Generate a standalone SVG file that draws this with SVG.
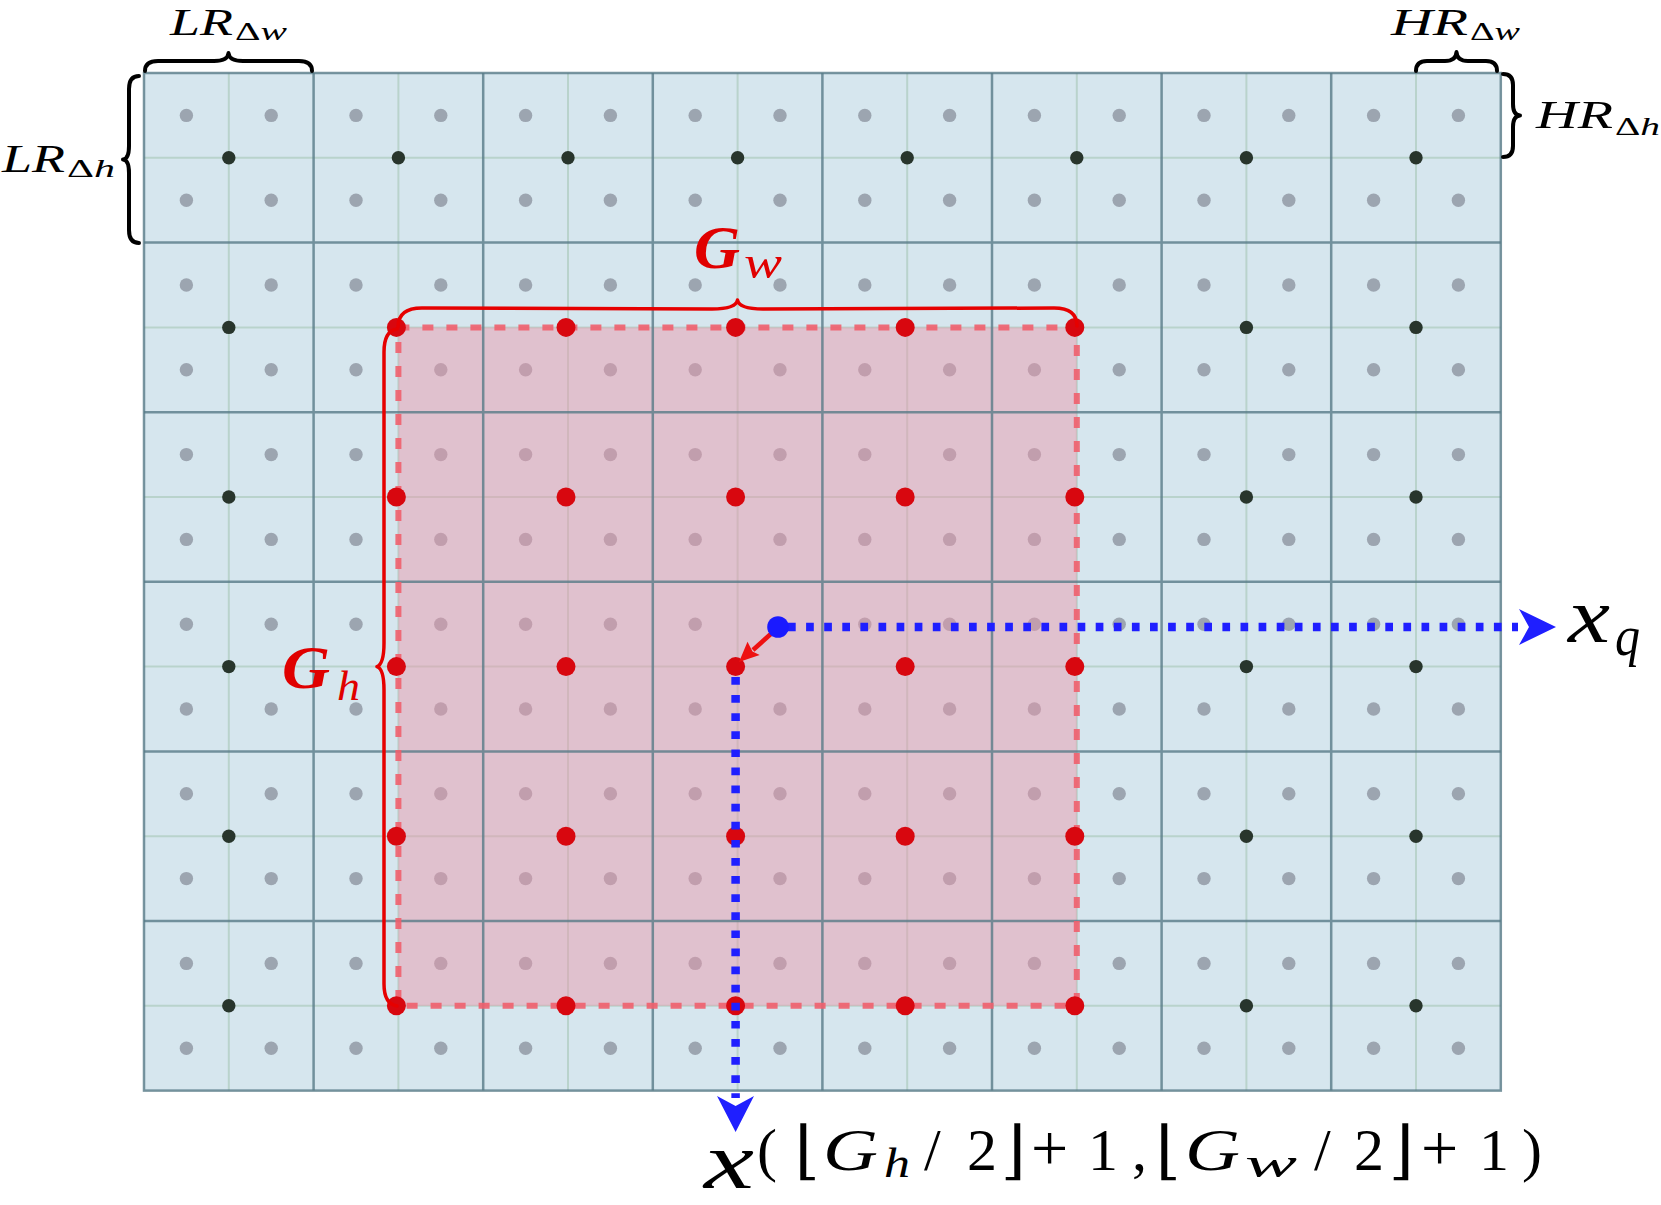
<svg xmlns="http://www.w3.org/2000/svg" width="1661" height="1205" viewBox="0 0 1661 1205">
<style>
.m{font-family:"Liberation Serif","DejaVu Serif",serif;font-style:italic;}
.u{font-family:"Liberation Serif","DejaVu Serif",serif;font-style:normal;}
.fl{font-family:"DejaVu Serif","Liberation Serif",serif;font-style:normal;}
.blk{fill:#000;}
.red{fill:#e00000;}
.gd{fill:#9ca5b0;}
.bd{fill:#28352c;}
.inner{stroke:#b9d3cc;stroke-width:2;fill:none;}
.dark{stroke:#587a87;stroke-opacity:0.8;stroke-width:2.5;fill:none;}
.brace{fill:none;stroke:#000;stroke-width:4;stroke-linecap:round;stroke-linejoin:round;}
.rbrace{fill:none;stroke:#e60000;stroke-width:3.5;stroke-linecap:round;stroke-linejoin:round;}
.bdash{fill:none;stroke:#1f1fff;stroke-width:8.5;stroke-dasharray:7.7 10.4;}
.rd{fill:#d8070f;}
</style>
<defs>
<g id="cellDots">
<circle class="gd" cx="42.4" cy="42.4" r="6.7"/>
<circle class="gd" cx="127.2" cy="42.4" r="6.7"/>
<circle class="gd" cx="42.4" cy="127.2" r="6.7"/>
<circle class="gd" cx="127.2" cy="127.2" r="6.7"/>
<circle class="bd" cx="84.8" cy="84.8" r="6.7"/>
</g>
</defs>
<rect width="1661" height="1205" fill="#ffffff"/>

<g id="grid">
<rect x="144" y="73" width="1356.8" height="1017.6" fill="#d6e6ee"/>
<path class="inner" d="M228.8,73V1090.6M398.4,73V1090.6M568,73V1090.6M737.6,73V1090.6M907.2,73V1090.6M1076.8,73V1090.6M1246.4,73V1090.6M1416,73V1090.6M144,157.8H1500.8M144,327.4H1500.8M144,497H1500.8M144,666.6H1500.8M144,836.2H1500.8M144,1005.8H1500.8"/>
<g id="dots">
<use href="#cellDots" x="144" y="73"/><use href="#cellDots" x="313.6" y="73"/><use href="#cellDots" x="483.2" y="73"/><use href="#cellDots" x="652.8" y="73"/><use href="#cellDots" x="822.4" y="73"/><use href="#cellDots" x="992" y="73"/><use href="#cellDots" x="1161.6" y="73"/><use href="#cellDots" x="1331.2" y="73"/>
<use href="#cellDots" x="144" y="242.6"/><use href="#cellDots" x="313.6" y="242.6"/><use href="#cellDots" x="483.2" y="242.6"/><use href="#cellDots" x="652.8" y="242.6"/><use href="#cellDots" x="822.4" y="242.6"/><use href="#cellDots" x="992" y="242.6"/><use href="#cellDots" x="1161.6" y="242.6"/><use href="#cellDots" x="1331.2" y="242.6"/>
<use href="#cellDots" x="144" y="412.2"/><use href="#cellDots" x="313.6" y="412.2"/><use href="#cellDots" x="483.2" y="412.2"/><use href="#cellDots" x="652.8" y="412.2"/><use href="#cellDots" x="822.4" y="412.2"/><use href="#cellDots" x="992" y="412.2"/><use href="#cellDots" x="1161.6" y="412.2"/><use href="#cellDots" x="1331.2" y="412.2"/>
<use href="#cellDots" x="144" y="581.8"/><use href="#cellDots" x="313.6" y="581.8"/><use href="#cellDots" x="483.2" y="581.8"/><use href="#cellDots" x="652.8" y="581.8"/><use href="#cellDots" x="822.4" y="581.8"/><use href="#cellDots" x="992" y="581.8"/><use href="#cellDots" x="1161.6" y="581.8"/><use href="#cellDots" x="1331.2" y="581.8"/>
<use href="#cellDots" x="144" y="751.4"/><use href="#cellDots" x="313.6" y="751.4"/><use href="#cellDots" x="483.2" y="751.4"/><use href="#cellDots" x="652.8" y="751.4"/><use href="#cellDots" x="822.4" y="751.4"/><use href="#cellDots" x="992" y="751.4"/><use href="#cellDots" x="1161.6" y="751.4"/><use href="#cellDots" x="1331.2" y="751.4"/>
<use href="#cellDots" x="144" y="921"/><use href="#cellDots" x="313.6" y="921"/><use href="#cellDots" x="483.2" y="921"/><use href="#cellDots" x="652.8" y="921"/><use href="#cellDots" x="822.4" y="921"/><use href="#cellDots" x="992" y="921"/><use href="#cellDots" x="1161.6" y="921"/><use href="#cellDots" x="1331.2" y="921"/>
</g>
</g>

<g id="window-fill">
<rect x="398.4" y="327.4" width="678.4" height="678.4" fill="#eb96ab" fill-opacity="0.47"/>
</g>

<g id="grid-lines">
<path class="dark" d="M313.6,73V1090.6M483.2,73V1090.6M652.8,73V1090.6M822.4,73V1090.6M992,73V1090.6M1161.6,73V1090.6M1331.2,73V1090.6M144,242.6H1500.8M144,412.2H1500.8M144,581.8H1500.8M144,751.4H1500.8M144,921H1500.8"/>
<rect class="dark" x="144" y="73" width="1356.8" height="1017.6"/>
</g>

<g id="window-border">
<rect x="398.4" y="327.4" width="678.4" height="678.4" fill="none" stroke="#ef5f6d" stroke-opacity="0.9" stroke-width="6" stroke-dasharray="11 13"/>
</g>

<g id="window-points">
<circle class="rd" cx="396.4" cy="327.4" r="9.5"/><circle class="rd" cx="566" cy="327.4" r="9.5"/><circle class="rd" cx="735.6" cy="327.4" r="9.5"/><circle class="rd" cx="905.2" cy="327.4" r="9.5"/><circle class="rd" cx="1074.8" cy="327.4" r="9.5"/>
<circle class="rd" cx="396.4" cy="497" r="9.5"/><circle class="rd" cx="566" cy="497" r="9.5"/><circle class="rd" cx="735.6" cy="497" r="9.5"/><circle class="rd" cx="905.2" cy="497" r="9.5"/><circle class="rd" cx="1074.8" cy="497" r="9.5"/>
<circle class="rd" cx="396.4" cy="666.6" r="9.5"/><circle class="rd" cx="566" cy="666.6" r="9.5"/><circle class="rd" cx="735.6" cy="666.6" r="9.5"/><circle class="rd" cx="905.2" cy="666.6" r="9.5"/><circle class="rd" cx="1074.8" cy="666.6" r="9.5"/>
<circle class="rd" cx="396.4" cy="836.2" r="9.5"/><circle class="rd" cx="566" cy="836.2" r="9.5"/><circle class="rd" cx="735.6" cy="836.2" r="9.5"/><circle class="rd" cx="905.2" cy="836.2" r="9.5"/><circle class="rd" cx="1074.8" cy="836.2" r="9.5"/>
<circle class="rd" cx="396.4" cy="1005.8" r="9.5"/><circle class="rd" cx="566" cy="1005.8" r="9.5"/><circle class="rd" cx="735.6" cy="1005.8" r="9.5"/><circle class="rd" cx="905.2" cy="1005.8" r="9.5"/><circle class="rd" cx="1074.8" cy="1005.8" r="9.5"/>
</g>

<g id="connectors">
<path class="bdash" d="M788,627H1518"/>
<path fill="#1f1fff" d="M1556,627L1519,609L1529,627L1519,645Z"/>
<path class="bdash" d="M735.6,677V1098"/>
<path fill="#1f1fff" d="M735.6,1132L717,1096L735.6,1106L754,1096Z"/>
<path d="M773,632L753,650" stroke="#ee1111" stroke-width="4.5" fill="none"/>
<path fill="#ee1111" d="M739,662L747.5,641.8L752.5,651.5L759.7,655Z"/>
</g>

<g id="query-point">
<circle cx="778" cy="627" r="10.8" fill="#1a1aff"/>
</g>

<g id="braces">
<path class="brace" d="M145,71Q145,61 158,61L214,61Q228,61 228.5,53Q229,61 243,61L299,61Q312,61 312,71"/>
<path class="brace" d="M139,76Q129,76 129,89L129,146Q129,159 123,159.5Q129,160 129,173L129,230Q129,243 139,243"/>
<path class="brace" d="M1416,71Q1416,61 1427,61L1445,61Q1456,61 1456.5,52Q1457,61 1468,61L1486,61Q1497,61 1497,71"/>
<path class="brace" d="M1503,74Q1513,74 1513,85L1513,104Q1513,115 1520,115.5Q1513,116 1513,127L1513,146Q1513,157 1503,157"/>
<path class="rbrace" d="M398,327Q398,308 422,308L712,309Q736,309 737.5,300Q739,309 763,309L1054,308Q1077,308 1077,326"/>
<path class="rbrace" d="M397,329Q384,331 384,352L384,643Q384,664 377,666.6Q384,669 384,690L384,984Q384,1004 397,1006"/>
</g>

<g id="labels">
<g id="label-lr-dw" class="blk">
<text class="m" x="170" y="35" font-size="38" textLength="63" lengthAdjust="spacingAndGlyphs">LR</text>
<text x="235" y="40" font-size="26" textLength="52" lengthAdjust="spacingAndGlyphs"><tspan class="u">Δ</tspan><tspan class="m">w</tspan></text>
</g>
<g id="label-lr-dh" class="blk">
<text class="m" x="2" y="172" font-size="40" textLength="63" lengthAdjust="spacingAndGlyphs">LR</text>
<text x="67" y="177" font-size="26" textLength="48" lengthAdjust="spacingAndGlyphs"><tspan class="u">Δ</tspan><tspan class="m">h</tspan></text>
</g>
<g id="label-hr-dw" class="blk">
<text class="m" x="1391" y="35" font-size="38" textLength="77" lengthAdjust="spacingAndGlyphs">HR</text>
<text x="1470" y="40" font-size="26" textLength="50" lengthAdjust="spacingAndGlyphs"><tspan class="u">Δ</tspan><tspan class="m">w</tspan></text>
</g>
<g id="label-hr-dh" class="blk">
<text class="m" x="1536" y="128" font-size="40" textLength="77" lengthAdjust="spacingAndGlyphs">HR</text>
<text x="1615" y="135" font-size="26" textLength="45" lengthAdjust="spacingAndGlyphs"><tspan class="u">Δ</tspan><tspan class="m">h</tspan></text>
</g>
<g id="label-gw" class="red">
<text class="m" x="694" y="268" font-size="62" font-weight="bold" textLength="46" lengthAdjust="spacingAndGlyphs">G</text>
<text class="m" x="744" y="278" font-size="46" textLength="38" lengthAdjust="spacingAndGlyphs">w</text>
</g>
<g id="label-gh" class="red">
<text class="m" x="282" y="688" font-size="62" font-weight="bold" textLength="48" lengthAdjust="spacingAndGlyphs">G</text>
<text class="m" x="337" y="700" font-size="42" textLength="23" lengthAdjust="spacingAndGlyphs">h</text>
</g>
<g id="label-xq" class="blk">
<text class="m" x="1568" y="642" font-size="78" textLength="42" lengthAdjust="spacingAndGlyphs">x</text>
<text class="m" x="1615" y="655" font-size="56" textLength="25" lengthAdjust="spacingAndGlyphs">q</text>
</g>
<g id="label-center" class="blk">
<text class="m" x="704" y="1188" font-size="80" textLength="50" lengthAdjust="spacingAndGlyphs">x</text>
<text font-size="60"><tspan class="u" x="757" y="1170">(</tspan><tspan class="fl" x="795" y="1172" font-size="64">⌊</tspan><tspan class="u" x="924" y="1170">/</tspan><tspan class="u" x="967" y="1170">2</tspan><tspan class="fl" x="1001" y="1172" font-size="64">⌋</tspan><tspan class="u" x="1031" y="1170" font-size="66">+</tspan><tspan class="u" x="1088" y="1170">1</tspan><tspan class="u" x="1132" y="1170">,</tspan><tspan class="fl" x="1156" y="1172" font-size="64">⌊</tspan><tspan class="u" x="1314" y="1170">/</tspan><tspan class="u" x="1354" y="1170">2</tspan><tspan class="fl" x="1389" y="1172" font-size="64">⌋</tspan><tspan class="u" x="1421" y="1170" font-size="66">+</tspan><tspan class="u" x="1479" y="1170">1</tspan><tspan class="u" x="1522" y="1170">)</tspan></text>
<text class="m" x="823" y="1170" font-size="60" textLength="55" lengthAdjust="spacingAndGlyphs">G</text>
<text class="m" x="884" y="1177" font-size="42" textLength="26" lengthAdjust="spacingAndGlyphs">h</text>
<text class="m" x="1185" y="1170" font-size="60" textLength="55" lengthAdjust="spacingAndGlyphs">G</text>
<text class="m" x="1245" y="1177" font-size="42" textLength="52" lengthAdjust="spacingAndGlyphs">w</text>
</g>
</g>
</svg>
